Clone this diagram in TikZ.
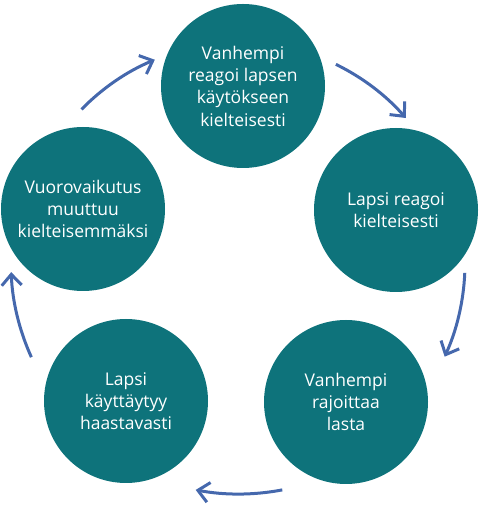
\documentclass[tikz,border=0pt]{standalone}
\usepackage{fontspec}
\setmainfont{Open Sans}
\usetikzlibrary{arrows.meta,calc}
\definecolor{teal1}{HTML}{0E737B}
\definecolor{arrblue}{HTML}{4568AD}
\tikzset{
  bubble/.style={circle, fill=teal1, minimum size=164pt, inner sep=0pt, text=white, align=center, font=\fontsize{17.5}{22.3}\selectfont},
  cyclearrow/.style={draw=arrblue, line width=3pt, -{Straight Barb[length=11pt,width=20pt,line width=3pt]}}
}
\begin{document}
\begin{tikzpicture}[x=1pt,y=1pt]
\useasboundingbox (0,0) rectangle (480,511);
\node[bubble] (top) at (243,425) {Vanhempi\\reagoi lapsen\\käytökseen\\kielteisesti};
\node[bubble] (right) at (396,301) {Lapsi reagoi\\kielteisesti};
\node[bubble] (br) at (346,109) {Vanhempi\\rajoittaa\\lasta};
\node[bubble] (bl) at (126,110) {Lapsi\\käyttäytyy\\haastavasti};
\node[bubble] (left) at (83,302) {Vuorovaikutus\\muuttuu\\kielteisemmäksi};
\coordinate (c) at (239,248);
\coordinate (s1) at ([shift={(135.7:220)}]c);
\coordinate (s2) at ([shift={(64:221)}]c);
\coordinate (s3) at ([shift={(-2.5:226)}]c);
\coordinate (s4) at ([shift={(-79.2:231)}]c);
\coordinate (s5) at ([shift={(-155.6:228)}]c);
\draw[cyclearrow] (s1) arc[start angle=135.7, end angle=112.5, radius=220];
\draw[cyclearrow] (s2) arc[start angle=64, end angle=41, radius=221];
\draw[cyclearrow] (s3) arc[start angle=-2.5, end angle=-24.5, radius=226];
\draw[cyclearrow] (s4) arc[start angle=-79.2, end angle=-100.8, radius=231];
\draw[cyclearrow] (s5) arc[start angle=-155.6, end angle=-177.7, radius=228];
\end{tikzpicture}
\end{document}
